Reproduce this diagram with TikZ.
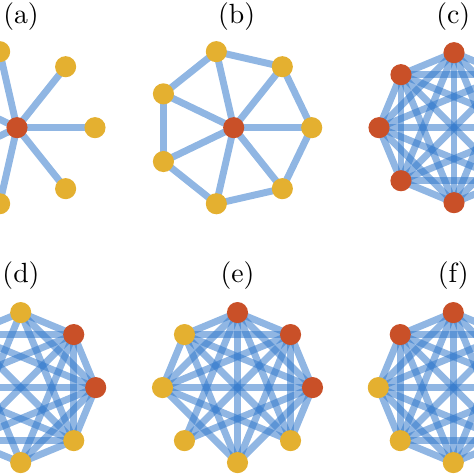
\documentclass[tikz,border=0pt]{standalone}
\definecolor{hubred}{RGB}{201,80,40}
\definecolor{leafgold}{RGB}{228,176,48}
\definecolor{edgeblue}{RGB}{52,122,204}
\pgfdeclarelayer{edges}
\pgfsetlayers{edges,main}

\begin{document}
\begin{tikzpicture}[
    x=0.36pt, y=0.36pt,
    hub/.style={circle, fill=hubred, inner sep=0pt, minimum size=7.6pt},
    leaf/.style={circle, fill=leafgold, inner sep=0pt, minimum size=7.6pt},
    link/.style={draw=edgeblue, draw opacity=0.55, line width=2.5pt},
    tag/.style={inner sep=0pt}
]
\useasboundingbox (0,0) rectangle (474,474);

% centres of the six panels
\coordinate (pa) at (17,346.3);
\coordinate (pb) at (233.7,346.3);
\coordinate (pc) at (454,346.3);
\coordinate (pd) at (20.7,86.4);
\coordinate (pe) at (237.5,86.4);
\coordinate (pf) at (453.3,86.4);

% panel tags
\node[tag] (ta) at (21,457.5) {(a)};
\node[tag] (tb) at (236.7,457.5) {(b)};
\node[tag] (tc) at (453.3,457.5) {(c)};
\node[tag] (td) at (21,198.5) {(d)};
\node[tag] (te) at (237.5,198.5) {(e)};
\node[tag] (tf) at (453.3,198.5) {(f)};

% (a) star and (b) wheel on seven leaves
\node[hub] (a0) at (pa) {};
\node[hub] (b0) at (pb) {};
\foreach \k in {1,...,7} {
  \node[leaf] (a\k) at ([shift={({(\k-1)*360/7}:78)}]pa) {};
  \node[leaf] (b\k) at ([shift={({(\k-1)*360/7}:78)}]pb) {};
}

% (c)-(f) octagons
\foreach \k in {0,...,7}
  \node[hub] (c\k) at ([shift={({\k*45}:75)}]pc) {};
\foreach \k/\kind in {0/hub,1/hub,2/leaf,3/leaf,4/leaf,5/leaf,6/leaf,7/leaf}
  \node[\kind] (d\k) at ([shift={({\k*45}:75)}]pd) {};
\foreach \k/\kind in {0/hub,1/hub,2/hub,3/leaf,4/leaf,5/leaf,6/leaf,7/leaf}
  \node[\kind] (e\k) at ([shift={({\k*45}:75)}]pe) {};
\foreach \k/\kind in {0/leaf,1/leaf,2/hub,3/hub,4/leaf,5/leaf,6/leaf,7/leaf}
  \node[\kind] (f\k) at ([shift={({\k*45}:75)}]pf) {};

\begin{pgfonlayer}{edges}
% spokes and rim
\foreach \k in {1,...,7} {
  \draw[link] (a0.center) -- (a\k.center);
  \draw[link] (b0.center) -- (b\k.center);
}
\foreach \k [evaluate=\k as \n using {int(mod(\k,7)+1)}] in {1,...,7}
  \draw[link] (b\k.center) -- (b\n.center);

% complete graph
\foreach \i in {0,...,6} {
  \pgfmathtruncatemacro\s{\i+1}
  \foreach \j in {\s,...,7}
    \draw[link] (c\i.center) -- (c\j.center);
}

% hubs reach every node, leaves only some
\foreach \i/\j in {0/1,0/2,0/3,0/4,0/5,0/6,0/7,1/2,1/3,1/4,1/5,1/6,1/7,
                   2/3,2/5,2/7,3/6,3/7,4/7,5/6,5/7,6/7}
  \draw[link] (d\i.center) -- (d\j.center);
\foreach \i/\j in {0/1,0/2,1/2,0/3,0/4,0/5,0/6,0/7,1/3,1/4,1/5,1/6,1/7,
                   2/3,2/4,2/5,2/6,2/7,3/4,3/6,3/7,4/6,4/7}
  \draw[link] (e\i.center) -- (e\j.center);
\foreach \i/\j in {2/3,2/0,2/1,2/4,2/5,2/6,2/7,3/0,3/1,3/4,3/5,3/6,3/7,
                   0/4,0/5,0/6,1/4,1/5,1/6,4/5,4/6,4/7,5/6,5/7,6/7}
  \draw[link] (f\i.center) -- (f\j.center);
\end{pgfonlayer}
\end{tikzpicture}
\end{document}
